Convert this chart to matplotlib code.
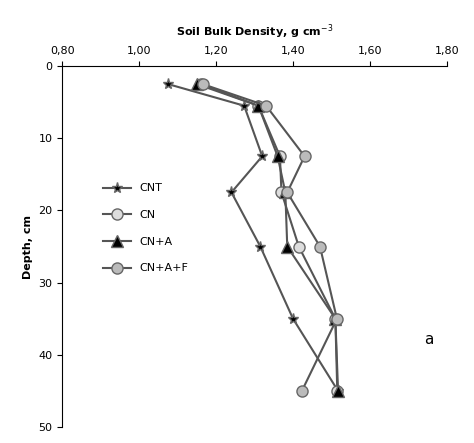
import matplotlib
matplotlib.use("Agg")
import matplotlib.pyplot as plt

depth = [2.5, 5.5, 12.5, 17.5, 25, 35, 45]
cnt = [1.075, 1.273, 1.32, 1.24, 1.315, 1.40, 1.517]
cn = [1.16, 1.31, 1.366, 1.37, 1.415, 1.51, 1.515]
cna = [1.15, 1.31, 1.36, 1.38, 1.385, 1.51, 1.517]
cnaf = [1.165, 1.33, 1.43, 1.385, 1.47, 1.514, 1.423]
xticks = [0.80, 1.00, 1.20, 1.40, 1.60, 1.80]

fig = plt.figure(figsize=(4.74, 4.43), dpi=100)
ax = fig.add_axes([0.131, 0.036, 0.812, 0.815])
kw = dict(color="#555555", lw=1.5, ms=8, markeredgecolor="#666666")
ax.plot(cnt, depth, marker="*", markerfacecolor="black", label="CNT", **kw)
ax.plot(cn, depth, marker="o", markerfacecolor="#dddddd", label="CN", **kw)
ax.plot(cna, depth, marker="^", markerfacecolor="black", label="CN+A", **kw)
ax.plot(cnaf, depth, marker="o", markerfacecolor="#bbbbbb", label="CN+A+F", **kw)
ax.set_xlim(0.8, 1.8)
ax.set_ylim(50, 0)
ax.set_xticks(xticks)
ax.set_xticklabels([f"{v:.2f}".replace(".", ",") for v in xticks], fontsize=8)
ax.set_yticks([0, 10, 20, 30, 40, 50])
ax.tick_params(labelsize=8)
ax.xaxis.tick_top()
ax.xaxis.set_label_position("top")
ax.set_xlabel("Soil Bulk Density, g cm$^{-3}$", fontsize=8, fontweight="bold", labelpad=8)
ax.set_ylabel("Depth, cm", fontsize=8, fontweight="bold")
for s in ["right", "bottom"]:
    ax.spines[s].set_visible(False)
ax.legend(loc="center left", bbox_to_anchor=(0.08, 0.55), frameon=False, fontsize=8,
          labelspacing=1.5, handlelength=2.5)
ax.text(1.74, 38.5, "a", fontsize=11)
fig.savefig("out.png", dpi=100)
